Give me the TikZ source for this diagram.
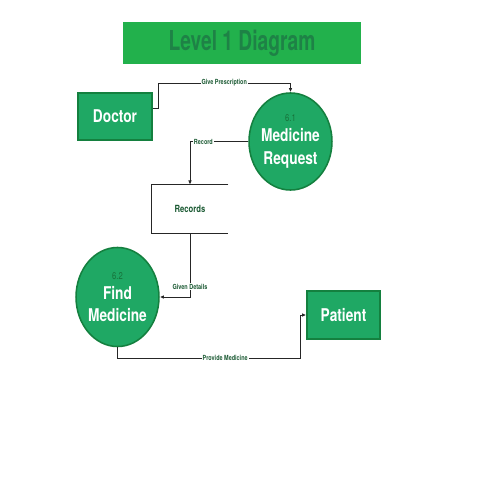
\documentclass[tikz,border=0pt]{standalone}
\usepackage{fontspec}
\usepackage{xcolor}
\usetikzlibrary{shapes.geometric,arrows.meta}

\newfontfamily\dfdfont{TeX Gyre Heros}[FakeStretch=0.78]
\newfontfamily\titlefont{TeX Gyre Heros}[FakeStretch=0.7]

\definecolor{bannergreen}{HTML}{22B14C}
\definecolor{titlegreen}{HTML}{1E8246}
\definecolor{boxgreen}{HTML}{1FA864}
\definecolor{edgegreen}{HTML}{14803F}
\definecolor{numgreen}{HTML}{17733B}
\definecolor{lblgreen}{HTML}{1B5A33}

\tikzset{
  entity/.style={draw=edgegreen, line width=1.1pt, fill=boxgreen, text=white,
    font=\dfdfont\bfseries\fontsize{12.5}{14}\selectfont, inner sep=0pt},
  process/.style={ellipse, draw=edgegreen, line width=1.1pt, fill=boxgreen, text=white,
    font=\dfdfont\bfseries\fontsize{12.5}{16}\selectfont, align=center, inner sep=0pt},
  flow/.style={draw=black!85, line width=0.6pt},
  flowarrow/.style={flow, -{Latex[length=3pt,width=2.6pt]}},
  lbl/.style={fill=white, text=lblgreen, inner sep=0.6pt,
    font=\dfdfont\bfseries\fontsize{5}{6}\selectfont}
}

\begin{document}
\begin{tikzpicture}[x=0.025cm, y=-0.025cm]
\useasboundingbox[fill=white] (0,0) rectangle (495,495);

% Title
\node[fill=bannergreen, minimum width=5.95cm, minimum height=1.05cm, text=titlegreen,
  font=\titlefont\bfseries\fontsize{19.5}{21}\selectfont] (title) at (242,43) {Level 1 Diagram};

% External entities
\node[entity, minimum width=1.85cm, minimum height=1.175cm] (doctor) at (115,116.5) {Doctor};
\node[entity, minimum width=1.825cm, minimum height=1.2cm] (patient) at (343.5,315) {Patient};

% Processes
\node[process, minimum width=1.975cm, minimum height=2.425cm] (medreq) at (290.5,141.5)
  {\textcolor{numgreen}{\dfdfont\mdseries\fontsize{7}{7}\selectfont 6.1}\\[-2pt]Medicine\\Request};
\node[process, minimum width=1.975cm, minimum height=2.475cm] (findmed) at (117.5,297)
  {\textcolor{numgreen}{\dfdfont\mdseries\fontsize{7}{7}\selectfont 6.2}\\[-2pt]Find\\Medicine};

% Data store
\node[minimum width=1.9cm, minimum height=1.2cm, text=lblgreen,
  font=\dfdfont\bfseries\fontsize{7}{8}\selectfont] (records) at (190,209) {Records};
\draw[flow] (records.north east) -- (records.north west) -- (records.south west) -- (records.south east);

% Data flows
\coordinate (d1) at (158,108);
\coordinate (d2) at (158,83);
\draw[flowarrow] (doctor.east |- d1) -- (d1) -- (d2)
  -- node[lbl] {Give Prescription} (d2 -| medreq.north) -- (medreq.north);

\draw[flowarrow] (medreq.west) -- node[lbl, pos=0.77] {Record} (medreq.west -| records.north)
  -- (records.north);

\draw[flowarrow] (records.south) -- node[lbl, pos=0.84] {Given Details} (records.south |- findmed.east)
  -- (findmed.east);

\coordinate (p1) at (300,358);
\draw[flowarrow] (findmed.south) -- (findmed.south |- p1)
  -- node[lbl, pos=0.59] {Provide Medicine} (p1) -- (p1 |- patient.west) -- (patient.west);

\end{tikzpicture}
\end{document}
